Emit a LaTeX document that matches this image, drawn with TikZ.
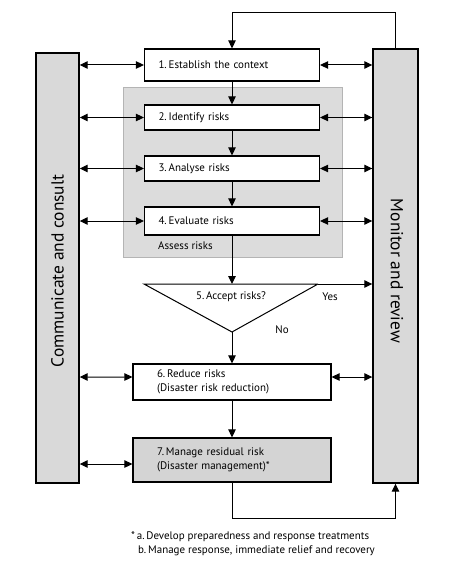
\documentclass[tikz,border=0pt]{standalone}
\usepackage{fontspec}
\setmainfont{PT Sans}
\usetikzlibrary{arrows.meta}
\definecolor{colgray}{HTML}{D9D9D9}
\definecolor{assessgray}{HTML}{DCDCDC}
\definecolor{assessedge}{HTML}{B4B4B4}
\definecolor{boxgray}{HTML}{D4D4D4}
\tikzset{
  every node/.style={font=\fontsize{11}{13.5}\selectfont},
  col/.style={draw=black, line width=1.4bp, fill=colgray, inner sep=0pt},
  stepbox/.style={draw=black, line width=1.2bp, fill=white, inner sep=0pt, align=left},
  flow/.style={line width=1bp, -{Triangle[length=8bp,width=7.5bp]}},
  both/.style={line width=1bp, {Triangle[length=8bp,width=7.5bp]}-{Triangle[length=8bp,width=7.5bp]}},
  coltext/.style={font=\fontsize{17.5}{19}\selectfont}
}
\begin{document}
\begin{tikzpicture}[x=1bp,y=-1bp]
\useasboundingbox (0,0) rectangle (474,563);
% columns
\node[col, minimum width=43bp, minimum height=430bp] (comm) at (57.5,268) {};
\node[coltext, rotate=90] (commtxt) at (57.5,271) {Communicate and consult};
\node[col, minimum width=45bp, minimum height=434bp] (mon) at (395.5,266) {};
\node[coltext, rotate=-90] (montxt) at (397,271) {Monitor and review};
% assess box
\node[draw=assessedge, line width=1bp, fill=assessgray, minimum width=219bp, minimum height=169bp, inner sep=0pt] (assess) at (232.5,172.5) {};
\node[anchor=west, inner sep=0pt] (assesslbl) at (158,246) {Assess risks};
% steps
\node[stepbox, minimum width=175bp, minimum height=32bp, text width=147bp, inner xsep=14bp] (b1) at (232,65) {1.\,Establish the context};
\node[stepbox, minimum width=175bp, minimum height=25bp, text width=147bp, inner xsep=14bp] (b2) at (232,117.5) {2.\,Identify risks};
\node[stepbox, minimum width=175bp, minimum height=25bp, text width=147bp, inner xsep=14bp] (b3) at (232,168.5) {3.\,Analyse risks};
\node[stepbox, minimum width=175bp, minimum height=28bp, text width=147bp, inner xsep=14bp] (b4) at (232,221) {4.\,Evaluate risks};
% decision triangle
\coordinate (tl) at (144,284);
\coordinate (tr) at (318,284);
\coordinate (tapex) at (232,332);
\draw[line width=1bp] (tr) -- (tl) -- (tapex) -- (tr);
\node (q5) at (231,297) {5.\,Accept risks?};
\node (yes) at (330,297) {Yes};
\node (no) at (282,330) {No};
% lower steps
\node[stepbox, minimum width=198bp, minimum height=36bp, text width=150bp, inner xsep=24bp] (b6) at (232,382) {6.\,Reduce risks\\(Disaster risk reduction)};
\node[stepbox, fill=boxgray, minimum width=198bp, minimum height=44bp, text width=150bp, inner xsep=24bp] (b7) at (232,460) {7.\,Manage residual risk\\(Disaster management)*};
% flow arrows
\coordinate (topc) at (232,13);
\draw[flow] (mon.north) |- (topc) -- (b1.north);
\draw[flow] (b1) -- (b2);
\draw[flow] (b2) -- (b3);
\draw[flow] (b3) -- (b4);
\draw[flow] (b4) -- (b4.south |- tl);
\draw[flow] (tr) -- (tr -| mon.west);
\draw[flow] (tapex) -- (b6);
\draw[flow] (b6) -- (b7);
\coordinate (botc) at (232,518);
\draw[flow] (b7.south) -- (botc) -| (mon.south);
% two-way arrows
\draw[both] (comm.east |- b1.west) -- (b1.west);
\draw[both] (b1.east) -- (mon.west |- b1.east);
\draw[both] (comm.east |- b2.west) -- (b2.west);
\draw[both] (b2.east) -- (mon.west |- b2.east);
\draw[both] (comm.east |- b3.west) -- (b3.west);
\draw[both] (b3.east) -- (mon.west |- b3.east);
\draw[both] (comm.east |- b4.west) -- (b4.west);
\draw[both] (b4.east) -- (mon.west |- b4.east);
\draw[both] (comm.east |- b6.west) ++(0,-5) -- ([yshift=5bp]b6.west);
\draw[both] ([yshift=5bp]b6.east) -- ([yshift=5bp]mon.west |- b6.east);
\draw[both] ([yshift=-4bp]comm.east |- b7.west) -- ([yshift=-4bp]b7.west);
% footnote
\node[anchor=west, inner sep=0pt, align=left, font=\fontsize{11}{14}\selectfont] (foot) at (131,544) {*\,a.\,Develop preparedness and response treatments\\\hspace*{7bp}b.\,Manage response, immediate relief and recovery};
\end{tikzpicture}
\end{document}
